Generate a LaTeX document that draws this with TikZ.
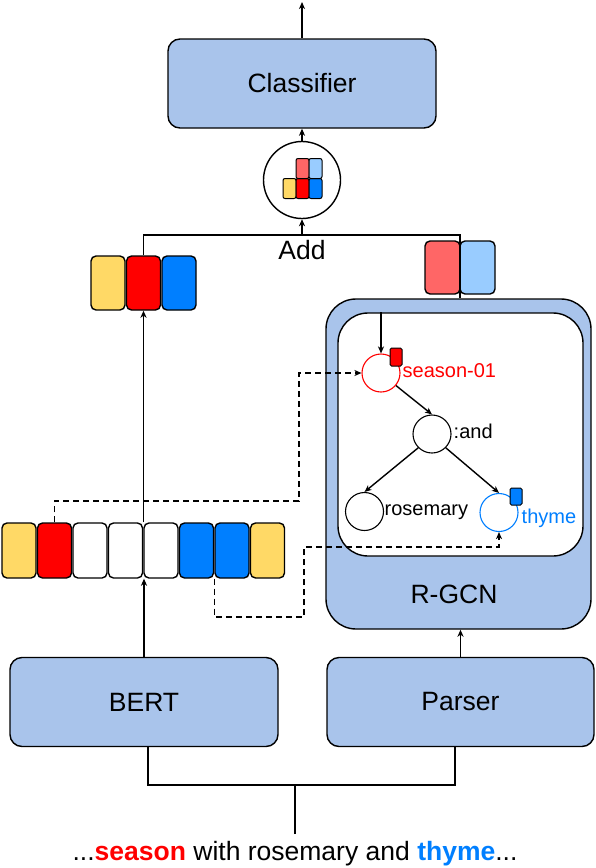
\documentclass[tikz,border=0pt]{standalone}
\usepackage{fontspec}
\setmainfont{Liberation Sans}
\usetikzlibrary{arrows.meta,calc}
\definecolor{boxblue}{HTML}{A9C4EB}
\definecolor{cyel}{HTML}{FFD966}
\definecolor{cred}{HTML}{FF0000}
\definecolor{cblue}{HTML}{007FFF}
\definecolor{clred}{HTML}{FF6666}
\definecolor{clblue}{HTML}{99CCFF}
\begin{document}
\begin{tikzpicture}[x=1pt,y=-1pt, line width=1.4pt,
  block/.style={draw, fill=boxblue, rounded corners=12pt, minimum width=268pt, minimum height=89pt, font=\fontsize{26.5}{30}\selectfont, inner sep=0pt},
  cell/.style={draw, rounded corners=5pt, minimum width=34pt, minimum height=55pt, inner sep=0pt},
  mini/.style={draw, rounded corners=2pt, minimum width=13pt, minimum height=20pt, inner sep=0pt, line width=1pt},
  gnode/.style={circle, draw, minimum size=38pt, inner sep=0pt, line width=1.1pt},
  vtag/.style={draw, rounded corners=1.5pt, minimum width=12pt, minimum height=18pt, inner sep=0pt, line width=1pt},
  glabel/.style={anchor=base west, inner sep=0pt, font=\fontsize{20}{24}\selectfont},
  biglabel/.style={anchor=base, inner sep=0pt, font=\fontsize{26.5}{30}\selectfont},
  arr/.style={-{Stealth[length=7pt,width=6pt,inset=2pt]}},
  dsh/.style={dash pattern=on 6pt off 4pt}
]
\useasboundingbox (0,0) rectangle (596,868);

% classifier and add
\node[block] (cls) at (302,83.5) {Classifier};
\coordinate (out) at (302,2);
\node[circle, draw, minimum size=77pt, inner sep=0pt] (add) at (302,180) {};
\node[mini, fill=cyel] (m1) at (289.5,188.5) {};
\node[mini, fill=cred] (m2) at (302.5,188.5) {};
\node[mini, fill=cblue] (m3) at (315.5,188.5) {};
\node[mini, fill=clred] (m4) at (302.5,168.5) {};
\node[mini, fill=clblue] (m5) at (315.5,168.5) {};
\coordinate (join) at (302,235);
\coordinate (jl) at (143.5,235);
\coordinate (jr) at (460,235);
\node[biglabel] (addlbl) at (302,259) {Add};

% top-left vector
\node[cell, minimum height=54pt, fill=cyel] (t1) at (108,283) {};
\node[cell, minimum height=54pt, fill=cred] (t2) at (143.5,283) {};
\node[cell, minimum height=54pt, fill=cblue] (t3) at (179,283) {};

% R-GCN
\node[draw, fill=boxblue, rounded corners=30pt, minimum width=265pt, minimum height=330pt, inner sep=0pt] (rgcn) at (458.5,464) {};
\node[draw, fill=white, rounded corners=30pt, minimum width=245pt, minimum height=243pt, inner sep=0pt] (inner) at (460.5,434.5) {};
\node[biglabel] (rlbl) at (454,603) {R-GCN};

% right vector
\node[cell, minimum width=35pt, minimum height=53pt, fill=clred] (r1) at (442.5,267.5) {};
\node[cell, minimum width=35pt, minimum height=53pt, fill=clblue] (r2) at (477.5,267.5) {};

% graph
\node[gnode, draw=cred] (sea) at (381,373) {};
\node[vtag, fill=cred] (seav) at (396,357) {};
\node[glabel, text=cred] (sealbl) at (402,377) {season-01};
\node[gnode] (and) at (432,434) {};
\node[glabel] (andlbl) at (453,438) {:and};
\node[gnode] (ros) at (364.5,511.5) {};
\node[glabel] (roslbl) at (384,515) {rosemary};
\node[gnode, draw=cblue] (thy) at (499,512.5) {};
\node[vtag, fill=cblue, minimum height=17pt] (thyv) at (516,496.5) {};
\node[glabel, text=cblue] (thylbl) at (521,523) {thyme};

% bottom vector
\foreach \c [count=\i] in {cyel,cred,white,white,white,cblue,cblue,cyel}
  \node[cell, fill=\c] (b\i) at ({19+35.5*(\i-1)},550.5) {};

% BERT / Parser
\node[block] (bert) at (144,702) {BERT};
\node[block, minimum width=267pt] (parser) at (460.5,702) {Parser};

% sentence
\node[biglabel] (sent) at (295,860) {...\textcolor{cred}{\textbf{season}} with rosemary and \textcolor{cblue}{\textbf{thyme}}...};
\coordinate (split) at (295,785);
\coordinate (bin) at (148,785);
\coordinate (pin) at (455,785);

% connectors
\draw[arr] (cls) -- (out);
\draw[arr] (add) -- (cls);
\draw (t2.north) -- (jl) -- (jr) -- (jr |- rgcn.north);
\draw[arr] (join) -- (add);
\draw[arr] (t2.south |- b4.north) -- (t2.south);
\draw[arr] (bert.north) -- (bert.north |- b4.south);
\draw[arr] (parser.north) -- (parser.north |- rgcn.south);
\draw ($(sent.north)+(0,-6)$) -- (split);
\draw (bert.south -| bin) |- (pin) -- (pin |- parser.south);
\draw[arr] (sea.north |- inner.north) -- (sea.north);
\draw[arr] (sea.-40) -- (and.north);
\draw[arr] (and.south west) -- (ros.north);
\draw[arr] (and.south east) -- (thy.north);
\coordinate (d1) at (299,501);
\draw[dsh, arr] (b2.north) |- (d1) |- (sea.west);
\coordinate (d2) at (304,617);
\coordinate (d3) at (304,547);
\draw[dsh, arr] ($(b6.south east)!0.5!(b7.south west)$) |- (d2) -- (d3) -| (thy.south);
\end{tikzpicture}
\end{document}
